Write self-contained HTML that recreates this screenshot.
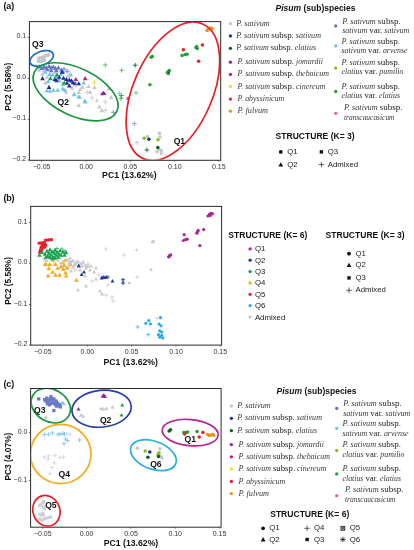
<!DOCTYPE html>
<html><head><meta charset="utf-8"><title>Pisum PCA</title>
<style>
html,body{margin:0;padding:0;background:#fff}
svg{display:block}
text{font-family:"Liberation Sans",sans-serif}
.sp{font-family:"Liberation Serif",serif;font-size:7.9px;fill:#3a3a3a}
.up{font-size:8.7px;fill:#222}
</style></head><body>
<svg width="414" height="550" viewBox="0 0 414 550">
<defs>
<clipPath id="ca"><rect x="29.9" y="22.1" width="190.3" height="137.7"/></clipPath>
<clipPath id="cb"><rect x="31.2" y="206.9" width="189.9" height="137.7"/></clipPath>
<clipPath id="cc"><rect x="31.1" y="389" width="189.5" height="137.7"/></clipPath>
</defs>
<rect width="414" height="550" fill="#fff"/>
<text x="3.4" y="8.9" font-size="9" font-weight="bold" text-anchor="start" fill="#111" textLength="10.8">(a)</text>
<rect x="29.4" y="21.6" width="191.29999999999998" height="138.70000000000002" fill="#fff" stroke="#2a2a2a" stroke-width="1"/>
<path d="M41.6 160.3v1.5" stroke="#333" stroke-width="0.6"/>
<text x="41.6" y="168.70000000000002" font-size="7" font-weight="normal" text-anchor="middle" fill="#333" >−0.05</text>
<path d="M86.2 160.3v1.5" stroke="#333" stroke-width="0.6"/>
<text x="86.2" y="168.70000000000002" font-size="7" font-weight="normal" text-anchor="middle" fill="#333" >0.00</text>
<path d="M130.3 160.3v1.5" stroke="#333" stroke-width="0.6"/>
<text x="130.3" y="168.70000000000002" font-size="7" font-weight="normal" text-anchor="middle" fill="#333" >0.05</text>
<path d="M174.8 160.3v1.5" stroke="#333" stroke-width="0.6"/>
<text x="174.8" y="168.70000000000002" font-size="7" font-weight="normal" text-anchor="middle" fill="#333" >0.10</text>
<path d="M218.8 160.3v1.5" stroke="#333" stroke-width="0.6"/>
<text x="218.8" y="168.70000000000002" font-size="7" font-weight="normal" text-anchor="middle" fill="#333" >0.15</text>
<path d="M29.4 37.3h-1.8" stroke="#333" stroke-width="0.7"/>
<text x="26.2" y="38.3" font-size="7" font-weight="normal" text-anchor="end" fill="#333" >0.1</text>
<path d="M29.4 78.4h-1.8" stroke="#333" stroke-width="0.7"/>
<text x="26.2" y="79.4" font-size="7" font-weight="normal" text-anchor="end" fill="#333" >0.0</text>
<path d="M29.4 119.3h-1.8" stroke="#333" stroke-width="0.7"/>
<text x="26.2" y="120.3" font-size="7" font-weight="normal" text-anchor="end" fill="#333" >−0.1</text>
<path d="M29.4 160.0h-1.8" stroke="#333" stroke-width="0.7"/>
<text x="26.2" y="161.0" font-size="7" font-weight="normal" text-anchor="end" fill="#333" >−0.2</text>
<text x="129.4" y="178.2" font-size="8.7" font-weight="bold" text-anchor="middle" fill="#111" >PC1 (13.62%)</text>
<text transform="translate(11.3 86.7) rotate(-90)" font-size="8.4" font-weight="bold" text-anchor="middle" fill="#111">PC2 (5.58%)</text>
<g clip-path="url(#ca)">
<rect x="37.1" y="56.7" width="3.1" height="3.1" fill="#c3c3cb"/>
<rect x="39.1" y="56.2" width="3.1" height="3.1" fill="#c3c3cb"/>
<rect x="41.0" y="55.7" width="3.1" height="3.1" fill="#c3c3cb"/>
<rect x="43.9" y="54.2" width="3.1" height="3.1" fill="#c3c3cb"/>
<rect x="45.5" y="53.8" width="3.1" height="3.1" fill="#c3c3cb"/>
<rect x="47.1" y="53.2" width="3.1" height="3.1" fill="#c3c3cb"/>
<rect x="36.8" y="59.6" width="3.1" height="3.1" fill="#c3c3cb"/>
<rect x="39.1" y="60.1" width="3.1" height="3.1" fill="#c3c3cb"/>
<rect x="41.0" y="59.1" width="3.1" height="3.1" fill="#c3c3cb"/>
<rect x="42.9" y="58.6" width="3.1" height="3.1" fill="#c3c3cb"/>
<rect x="42.5" y="55.5" width="3.1" height="3.1" fill="#c3c3cb"/>
<path d="M42.5 71.7L44.8 75.8H40.2Z" fill="#c6c6ce"/>
<path d="M45.4 80.5L47.7 84.6H43.1Z" fill="#c6c6ce"/>
<path d="M80.2 87.0L82.5 91.1H77.9Z" fill="#c6c6ce"/>
<path d="M82.3 84.8L84.6 88.9H80.0Z" fill="#c6c6ce"/>
<path d="M78.7 102.9L81.0 107.0H76.4Z" fill="#c6c6ce"/>
<path d="M78.7 90.0L81.0 94.1H76.4Z" fill="#c6c6ce"/>
<path d="M73.9 91.9L76.2 96.0H71.6Z" fill="#c6c6ce"/>
<path d="M79.9 94.8L82.2 98.9H77.6Z" fill="#c6c6ce"/>
<path d="M99.3 104.5L101.6 108.6H97.0Z" fill="#c6c6ce"/>
<path d="M101.7 108.1L104.0 112.2H99.4Z" fill="#c6c6ce"/>
<path d="M88.4 83.9L90.7 88.0H86.1Z" fill="#c6c6ce"/>
<path d="M94.4 85.1L96.7 89.2H92.1Z" fill="#c6c6ce"/>
<path d="M108.9 86.3L111.2 90.4H106.6Z" fill="#c6c6ce"/>
<path d="M111.3 94.8L113.6 98.9H109.0Z" fill="#c6c6ce"/>
<path d="M39.0 67.7L41.3 71.8H36.7Z" fill="#c6c6ce"/>
<path d="M47.0 74.7L49.3 78.8H44.7Z" fill="#c6c6ce"/>
<path d="M55.0 69.7L57.3 73.8H52.7Z" fill="#c6c6ce"/>
<path d="M60.0 78.7L62.3 82.8H57.7Z" fill="#c6c6ce"/>
<path d="M68.0 73.7L70.3 77.8H65.7Z" fill="#c6c6ce"/>
<path d="M72.0 85.7L74.3 89.8H69.7Z" fill="#c6c6ce"/>
<path d="M90.0 89.7L92.3 93.8H87.7Z" fill="#c6c6ce"/>
<path d="M36.5 63.7L38.8 67.8H34.2Z" fill="#c6c6ce"/>
<path d="M44.0 68.2L46.3 72.3H41.7Z" fill="#c6c6ce"/>
<path d="M66.0 89.7L68.3 93.8H63.7Z" fill="#c6c6ce"/>
<path d="M41.8 66.0L44.1 70.1H39.5Z" fill="#6272c6"/>
<path d="M43.9 64.5L46.2 68.6H41.6Z" fill="#6272c6"/>
<path d="M46.1 65.3L48.4 69.4H43.8Z" fill="#6272c6"/>
<path d="M49.0 63.8L51.3 67.9H46.7Z" fill="#6272c6"/>
<path d="M51.2 65.3L53.5 69.4H48.9Z" fill="#6272c6"/>
<path d="M53.4 64.5L55.7 68.6H51.1Z" fill="#6272c6"/>
<path d="M55.5 66.0L57.8 70.1H53.2Z" fill="#6272c6"/>
<path d="M58.4 65.3L60.7 69.4H56.1Z" fill="#6272c6"/>
<path d="M51.2 68.2L53.5 72.3H48.9Z" fill="#6272c6"/>
<path d="M61.3 67.4L63.6 71.5H59.0Z" fill="#6272c6"/>
<path d="M62.8 69.6L65.1 73.7H60.5Z" fill="#6272c6"/>
<path d="M47.5 67.2L49.8 71.3H45.2Z" fill="#6272c6"/>
<path d="M56.5 68.2L58.8 72.3H54.2Z" fill="#6272c6"/>
<path d="M39.5 64.2L41.8 68.3H37.2Z" fill="#6272c6"/>
<path d="M49.7 71.8L52.0 75.9H47.4Z" fill="#6cc5e8"/>
<path d="M52.6 72.5L54.9 76.6H50.3Z" fill="#6cc5e8"/>
<path d="M61.0 71.9L63.3 76.0H58.7Z" fill="#6cc5e8"/>
<path d="M70.8 72.5L73.1 76.6H68.5Z" fill="#6cc5e8"/>
<path d="M58.4 76.9L60.7 81.0H56.1Z" fill="#6cc5e8"/>
<path d="M48.3 79.0L50.6 83.1H46.0Z" fill="#6cc5e8"/>
<path d="M62.8 81.9L65.1 86.0H60.5Z" fill="#6cc5e8"/>
<path d="M46.8 88.5L49.1 92.6H44.5Z" fill="#6cc5e8"/>
<path d="M53.4 87.7L55.7 91.8H51.1Z" fill="#6cc5e8"/>
<path d="M57.7 87.7L60.0 91.8H55.4Z" fill="#6cc5e8"/>
<path d="M62.8 86.3L65.1 90.4H60.5Z" fill="#6cc5e8"/>
<path d="M65.0 87.7L67.3 91.8H62.7Z" fill="#6cc5e8"/>
<path d="M83.8 80.5L86.1 84.6H81.5Z" fill="#6cc5e8"/>
<path d="M74.4 92.1L76.7 96.2H72.1Z" fill="#6cc5e8"/>
<path d="M78.7 94.3L81.0 98.4H76.4Z" fill="#6cc5e8"/>
<path d="M85.2 99.3L87.5 103.4H82.9Z" fill="#6cc5e8"/>
<path d="M84.8 98.4L87.1 102.5H82.5Z" fill="#6cc5e8"/>
<path d="M50.0 88.7L52.3 92.8H47.7Z" fill="#6cc5e8"/>
<path d="M55.8 74.2L58.1 78.3H53.5Z" fill="#6cc5e8"/>
<path d="M45.5 69.7L47.8 73.8H43.2Z" fill="#6cc5e8"/>
<path d="M42.5 76.1L44.8 80.2H40.2Z" fill="#1c2c9c"/>
<path d="M54.8 76.9L57.1 81.0H52.5Z" fill="#1c2c9c"/>
<path d="M59.2 74.7L61.5 78.8H56.9Z" fill="#1c2c9c"/>
<path d="M66.4 76.9L68.7 81.0H64.1Z" fill="#1c2c9c"/>
<path d="M69.3 77.6L71.6 81.7H67.0Z" fill="#1c2c9c"/>
<path d="M71.5 78.3L73.8 82.4H69.2Z" fill="#1c2c9c"/>
<path d="M75.1 81.2L77.4 85.3H72.8Z" fill="#1c2c9c"/>
<path d="M78.7 81.2L81.0 85.3H76.4Z" fill="#1c2c9c"/>
<path d="M69.3 83.4L71.6 87.5H67.0Z" fill="#1c2c9c"/>
<path d="M49.0 84.8L51.3 88.9H46.7Z" fill="#1c2c9c"/>
<path d="M62.0 69.7L64.3 73.8H59.7Z" fill="#1c2c9c"/>
<path d="M63.5 75.7L65.8 79.8H61.2Z" fill="#1c2c9c"/>
<path d="M56.5 78.2L58.8 82.3H54.2Z" fill="#1c2c9c"/>
<path d="M73.0 80.2L75.3 84.3H70.7Z" fill="#1c2c9c"/>
<path d="M67.0 80.7L69.3 84.8H64.7Z" fill="#1c2c9c"/>
<path d="M50.5 76.1L52.8 80.2H48.2Z" fill="#1fa32e"/>
<path d="M64.2 80.5L66.5 84.6H61.9Z" fill="#1fa32e"/>
<path d="M57.0 72.5L59.3 76.6H54.7Z" fill="#1fa32e"/>
<path d="M75.8 76.9L78.1 81.0H73.5Z" fill="#c2187e"/>
<path d="M85.2 76.1L87.5 80.2H82.9Z" fill="#c2187e"/>
<path d="M102.2 91.6L104.2 95.2H100.2Z" fill="#8f22a8"/>
<path d="M103.4 90.8L105.4 94.4H101.4Z" fill="#8f22a8"/>
<path d="M104.4 91.4L106.4 95.0H102.4Z" fill="#8f22a8"/>
<path d="M64.7 71.2H69.5M67.1 68.8V73.6" stroke="#6272c6" stroke-width="0.85" fill="none"/>
<path d="M61.6 69.0H66.4M64.0 66.6V71.4" stroke="#6272c6" stroke-width="0.85" fill="none"/>
<path d="M92.0 82.6H96.8M94.4 80.2V85.0" stroke="#e6e23a" stroke-width="0.85" fill="none"/>
<path d="M94.4 100.7H99.2M96.8 98.3V103.1" stroke="#c6c6ce" stroke-width="0.85" fill="none"/>
<path d="M102.9 101.9H107.7M105.3 99.5V104.3" stroke="#c6c6ce" stroke-width="0.85" fill="none"/>
<path d="M102.9 110.4H107.7M105.3 108.0V112.8" stroke="#c6c6ce" stroke-width="0.85" fill="none"/>
<path d="M84.8 92.3H89.6M87.2 89.9V94.7" stroke="#c6c6ce" stroke-width="0.85" fill="none"/>
<path d="M67.6 73.0H72.4M70.0 70.6V75.4" stroke="#c6c6ce" stroke-width="0.85" fill="none"/>
<path d="M73.6 86.0H78.4M76.0 83.6V88.4" stroke="#c6c6ce" stroke-width="0.85" fill="none"/>
<path d="M89.6 98.0H94.4M92.0 95.6V100.4" stroke="#c6c6ce" stroke-width="0.85" fill="none"/>
<path d="M110.9 112.3H115.7M113.3 109.9V114.7" stroke="#7f8bd2" stroke-width="0.85" fill="none"/>
<path d="M102.9 65.0H107.7M105.3 62.6V67.4" stroke="#55b84a" stroke-width="0.85" fill="none"/>
<path d="M119.3 70.3H124.1M121.7 67.9V72.7" stroke="#55b84a" stroke-width="0.85" fill="none"/>
<path d="M116.9 93.5H121.7M119.3 91.1V95.9" stroke="#6cc5e8" stroke-width="0.85" fill="none"/>
<path d="M118.6 98.3H123.4M121.0 95.9V100.7" stroke="#1fa32e" stroke-width="0.85" fill="none"/>
<path d="M118.9 95.5H123.7M121.3 93.1V97.9" stroke="#1fa32e" stroke-width="0.85" fill="none"/>
<path d="M132.8 65.2H137.6M135.2 62.8V67.6" stroke="#0c5f24" stroke-width="0.85" fill="none"/>
<path d="M133.6 92.8H138.4M136.0 90.4V95.2" stroke="#6cc062" stroke-width="0.85" fill="none"/>
<path d="M132.0 123.6H136.8M134.4 121.2V126.0" stroke="#8a95d8" stroke-width="0.85" fill="none"/>
<path d="M134.6 142.5H139.4M137.0 140.1V144.9" stroke="#c6c6ce" stroke-width="0.85" fill="none"/>
<path d="M144.5 150.0H149.3M146.9 147.6V152.4" stroke="#0c5f24" stroke-width="0.85" fill="none"/>
<circle cx="127.8" cy="98.4" r="1.75" fill="#f0609e"/>
<circle cx="208.0" cy="29.6" r="1.75" fill="#e8941a"/>
<circle cx="209.5" cy="28.6" r="1.75" fill="#e8941a"/>
<circle cx="211.0" cy="28.0" r="1.75" fill="#e8941a"/>
<circle cx="212.4" cy="28.8" r="1.75" fill="#e8941a"/>
<circle cx="207.0" cy="30.4" r="1.75" fill="#e8941a"/>
<circle cx="183.4" cy="49.7" r="1.75" fill="#e8212b"/>
<circle cx="202.4" cy="44.9" r="1.75" fill="#e8212b"/>
<circle cx="198.6" cy="61.2" r="1.75" fill="#e8212b"/>
<circle cx="151.2" cy="57.2" r="1.75" fill="#1fa32e"/>
<circle cx="152.4" cy="56.4" r="1.75" fill="#1fa32e"/>
<circle cx="182.1" cy="55.6" r="1.75" fill="#1fa32e"/>
<circle cx="185.2" cy="54.6" r="1.75" fill="#1fa32e"/>
<circle cx="187.0" cy="54.2" r="1.75" fill="#1fa32e"/>
<circle cx="196.0" cy="47.6" r="1.75" fill="#1fa32e"/>
<circle cx="197.2" cy="48.6" r="1.75" fill="#1fa32e"/>
<circle cx="196.6" cy="46.6" r="1.75" fill="#1fa32e"/>
<circle cx="167.4" cy="72.6" r="1.75" fill="#1fa32e"/>
<circle cx="168.4" cy="71.4" r="1.75" fill="#1fa32e"/>
<circle cx="169.2" cy="70.4" r="1.75" fill="#1fa32e"/>
<circle cx="168.2" cy="73.6" r="1.75" fill="#1fa32e"/>
<circle cx="149.9" cy="84.7" r="1.75" fill="#1fa32e"/>
<circle cx="168.8" cy="72.4" r="1.0" fill="#0c5f24"/>
<circle cx="147.5" cy="136.4" r="1.75" fill="#c6c6ce"/>
<circle cx="159.4" cy="133.3" r="1.75" fill="#c6c6ce"/>
<circle cx="160.0" cy="137.0" r="1.75" fill="#c6c6ce"/>
<circle cx="157.2" cy="151.7" r="1.75" fill="#c6c6ce"/>
<circle cx="161.4" cy="150.8" r="1.75" fill="#c6c6ce"/>
<circle cx="161.4" cy="153.6" r="1.75" fill="#c6c6ce"/>
<circle cx="159.0" cy="149.2" r="1.75" fill="#c6c6ce"/>
<circle cx="144.2" cy="138.3" r="1.75" fill="#8bbd1a"/>
<circle cx="158.0" cy="139.7" r="1.75" fill="#8bbd1a"/>
<circle cx="148.9" cy="139.2" r="1.75" fill="#1c2c9c"/>
<circle cx="157.8" cy="147.5" r="1.75" fill="#0c5f24"/>
<ellipse cx="41.6" cy="58.4" rx="12.3" ry="6.9" transform="rotate(-21.4 41.6 58.4)" fill="none" stroke="#1c6fb8" stroke-width="1.7"/>
<ellipse cx="75.6" cy="91.8" rx="45.7" ry="23.7" transform="rotate(25.5 75.6 91.8)" fill="none" stroke="#14973c" stroke-width="1.7"/>
<ellipse cx="172.9" cy="91.3" rx="73.6" ry="39.5" transform="rotate(-66.2 172.9 91.3)" fill="none" stroke="#ee1c25" stroke-width="1.7"/>
</g>
<text x="32.1" y="47.2" font-size="8.6" font-weight="bold" text-anchor="start" fill="#111" >Q3</text>
<text x="57.6" y="104.6" font-size="8.6" font-weight="bold" text-anchor="start" fill="#111" >Q2</text>
<text x="173.7" y="143.7" font-size="8.6" font-weight="bold" text-anchor="start" fill="#111" >Q1</text>
<text x="275.6" y="11.2" font-size="8.5" font-weight="bold" fill="#111"><tspan font-style="italic">Pisum</tspan> (sub)species</text>
<circle cx="230.4" cy="23.7" r="1.65" fill="#c6c6ce"/>
<text class="sp" x="236.2" y="25.7" textLength="33.6" lengthAdjust="spacingAndGlyphs"><tspan font-style="italic">P. sativum</tspan></text>
<circle cx="230.4" cy="35.9" r="1.65" fill="#1c2c9c"/>
<text class="sp" x="236.2" y="37.9" textLength="84.8" lengthAdjust="spacingAndGlyphs"><tspan font-style="italic">P. sativum</tspan> <tspan class="up">subsp.</tspan> <tspan font-style="italic">sativum</tspan></text>
<circle cx="230.4" cy="48.3" r="1.65" fill="#0c5f24"/>
<text class="sp" x="236.2" y="50.3" textLength="79.8" lengthAdjust="spacingAndGlyphs"><tspan font-style="italic">P. sativum</tspan> <tspan class="up">subsp.</tspan> <tspan font-style="italic">elatius</tspan></text>
<circle cx="230.4" cy="62.2" r="1.65" fill="#8f22a8"/>
<text class="sp" x="237.4" y="64.2" textLength="85.6" lengthAdjust="spacingAndGlyphs"><tspan font-style="italic">P. sativum</tspan> <tspan class="up">subsp.</tspan> <tspan font-style="italic">jomardii</tspan></text>
<circle cx="230.4" cy="74.4" r="1.65" fill="#c2187e"/>
<text class="sp" x="237.4" y="76.4" textLength="91.6" lengthAdjust="spacingAndGlyphs"><tspan font-style="italic">P. sativum</tspan> <tspan class="up">subsp.</tspan> <tspan font-style="italic">thebaicum</tspan></text>
<circle cx="230.4" cy="86.5" r="1.65" fill="#e6e23a"/>
<text class="sp" x="237.4" y="88.5" textLength="88.0" lengthAdjust="spacingAndGlyphs"><tspan font-style="italic">P. sativum</tspan> <tspan class="up">subsp.</tspan> <tspan font-style="italic">cinereum</tspan></text>
<circle cx="230.4" cy="99.1" r="1.65" fill="#e8212b"/>
<text class="sp" x="237.4" y="101.1" textLength="46.9" lengthAdjust="spacingAndGlyphs"><tspan font-style="italic">P. abyssinicum</tspan></text>
<circle cx="230.4" cy="111.2" r="1.65" fill="#e8941a"/>
<text class="sp" x="237.4" y="113.2" textLength="30.6" lengthAdjust="spacingAndGlyphs"><tspan font-style="italic">P. fulvum</tspan></text>
<circle cx="335.7" cy="25.9" r="1.65" fill="#6272c6"/>
 <text class="sp" x="342.2" y="23.8" textLength="58.5" lengthAdjust="spacingAndGlyphs"><tspan font-style="italic">P. sativum</tspan> <tspan class="up">subsp.</tspan></text>
<text class="sp" x="342.2" y="33.2" textLength="67.2" lengthAdjust="spacingAndGlyphs"><tspan font-style="italic">sativum</tspan> <tspan class="up">var.</tspan> <tspan font-style="italic">sativum</tspan></text>
<circle cx="335.7" cy="45.9" r="1.65" fill="#6cc5e8"/>
 <text class="sp" x="341.5" y="43.5" textLength="58.5" lengthAdjust="spacingAndGlyphs"><tspan font-style="italic">P. sativum</tspan> <tspan class="up">subsp.</tspan></text>
<text class="sp" x="341.5" y="53.2" textLength="66.0" lengthAdjust="spacingAndGlyphs"><tspan font-style="italic">sativum</tspan> <tspan class="up">var.</tspan> <tspan font-style="italic">arvense</tspan></text>
<circle cx="335.7" cy="68.1" r="1.65" fill="#8bbd1a"/>
 <text class="sp" x="341.5" y="64.8" textLength="58.5" lengthAdjust="spacingAndGlyphs"><tspan font-style="italic">P. sativum</tspan> <tspan class="up">subsp.</tspan></text>
<text class="sp" x="341.5" y="74.2" textLength="62.0" lengthAdjust="spacingAndGlyphs"><tspan font-style="italic">elatius</tspan> <tspan class="up">var.</tspan> <tspan font-style="italic">pumilio</tspan></text>
<circle cx="335.7" cy="91.5" r="1.65" fill="#1fa32e"/>
 <text class="sp" x="341.5" y="88.7" textLength="58.5" lengthAdjust="spacingAndGlyphs"><tspan font-style="italic">P. sativum</tspan> <tspan class="up">subsp.</tspan></text>
<text class="sp" x="341.5" y="98.4" textLength="58.5" lengthAdjust="spacingAndGlyphs"><tspan font-style="italic">elatius</tspan> <tspan class="up">var.</tspan> <tspan font-style="italic">elatius</tspan></text>
<circle cx="335.7" cy="113.3" r="1.65" fill="#f0609e"/>
 <text class="sp" x="344.0" y="110.0" textLength="58.5" lengthAdjust="spacingAndGlyphs"><tspan font-style="italic">P. sativum</tspan> <tspan class="up">subsp.</tspan></text>
<text class="sp" x="344.0" y="119.9" textLength="50.5" lengthAdjust="spacingAndGlyphs"><tspan font-style="italic">transcaucasicum</tspan></text>
<text x="275.6" y="139.4" font-size="8.55" font-weight="bold" text-anchor="start" fill="#111" >STRUCTURE (K= 3)</text>
<circle cx="280.8" cy="151.9" r="1.9" fill="#111"/>
<text x="287.2" y="154" font-size="7.8" font-weight="normal" text-anchor="start" fill="#1a1a1a" >Q1</text>
<path d="M280.8 162.2L283.2 166.5H278.4Z" fill="#111"/>
<text x="287.2" y="166.7" font-size="7.8" font-weight="normal" text-anchor="start" fill="#1a1a1a" >Q2</text>
<rect x="319.7" y="150.2" width="3.4" height="3.4" fill="#111"/>
<text x="327.8" y="154" font-size="7.8" font-weight="normal" text-anchor="start" fill="#1a1a1a" >Q3</text>
<path d="M318.6 164.6H324.2M321.4 161.8V167.4" stroke="#111" stroke-width="0.65" fill="none"/>
<text x="327.8" y="166.7" font-size="7.8" font-weight="normal" text-anchor="start" fill="#1a1a1a" >Admixed</text>
<text x="3.4" y="201.3" font-size="9" font-weight="bold" text-anchor="start" fill="#111" textLength="11.2">(b)</text>
<rect x="30.7" y="206.4" width="190.9" height="138.70000000000002" fill="#fff" stroke="#2a2a2a" stroke-width="1"/>
<path d="M42.8 345.1v1.5" stroke="#333" stroke-width="0.6"/>
<text x="42.8" y="353.79999999999995" font-size="7" font-weight="normal" text-anchor="middle" fill="#333" >−0.05</text>
<path d="M87.4 345.1v1.5" stroke="#333" stroke-width="0.6"/>
<text x="87.4" y="353.79999999999995" font-size="7" font-weight="normal" text-anchor="middle" fill="#333" >0.00</text>
<path d="M131.6 345.1v1.5" stroke="#333" stroke-width="0.6"/>
<text x="131.6" y="353.79999999999995" font-size="7" font-weight="normal" text-anchor="middle" fill="#333" >0.05</text>
<path d="M176 345.1v1.5" stroke="#333" stroke-width="0.6"/>
<text x="176" y="353.79999999999995" font-size="7" font-weight="normal" text-anchor="middle" fill="#333" >0.10</text>
<path d="M220.3 345.1v1.5" stroke="#333" stroke-width="0.6"/>
<text x="220.3" y="353.79999999999995" font-size="7" font-weight="normal" text-anchor="middle" fill="#333" >0.15</text>
<path d="M30.7 222.5h-1.8" stroke="#333" stroke-width="0.7"/>
<text x="27.5" y="223.5" font-size="7" font-weight="normal" text-anchor="end" fill="#333" >0.1</text>
<path d="M30.7 263.3h-1.8" stroke="#333" stroke-width="0.7"/>
<text x="27.5" y="264.3" font-size="7" font-weight="normal" text-anchor="end" fill="#333" >0.0</text>
<path d="M30.7 304.5h-1.8" stroke="#333" stroke-width="0.7"/>
<text x="27.5" y="305.5" font-size="7" font-weight="normal" text-anchor="end" fill="#333" >−0.1</text>
<path d="M30.7 345.2h-1.8" stroke="#333" stroke-width="0.7"/>
<text x="27.5" y="346.2" font-size="7" font-weight="normal" text-anchor="end" fill="#333" >−0.2</text>
<text x="130.7" y="365.4" font-size="8.7" font-weight="bold" text-anchor="middle" fill="#111" >PC1 (13.62%)</text>
<text transform="translate(11.3 280.9) rotate(-90)" font-size="8.4" font-weight="bold" text-anchor="middle" fill="#111">PC2 (5.58%)</text>
<g clip-path="url(#cb)">
<path d="M60.0 256.0L62.0 259.6H58.0Z" fill="#c9c9cf"/>
<path d="M63.0 260.0L65.0 263.6H61.0Z" fill="#c9c9cf"/>
<path d="M66.0 258.0L68.0 261.6H64.0Z" fill="#c9c9cf"/>
<path d="M69.0 261.0L71.0 264.6H67.0Z" fill="#c9c9cf"/>
<path d="M72.0 259.0L74.0 262.6H70.0Z" fill="#c9c9cf"/>
<path d="M75.0 262.0L77.0 265.6H73.0Z" fill="#c9c9cf"/>
<path d="M70.0 256.0L72.0 259.6H68.0Z" fill="#c9c9cf"/>
<path d="M64.0 264.0L66.0 267.6H62.0Z" fill="#c9c9cf"/>
<path d="M68.0 266.0L70.0 269.6H66.0Z" fill="#c9c9cf"/>
<path d="M73.0 265.0L75.0 268.6H71.0Z" fill="#c9c9cf"/>
<path d="M77.0 260.0L79.0 263.6H75.0Z" fill="#c9c9cf"/>
<path d="M82.0 264.0L84.0 267.6H80.0Z" fill="#c9c9cf"/>
<path d="M86.0 266.0L88.0 269.6H84.0Z" fill="#c9c9cf"/>
<path d="M90.0 268.0L92.0 271.6H88.0Z" fill="#c9c9cf"/>
<path d="M94.0 270.0L96.0 273.6H92.0Z" fill="#c9c9cf"/>
<path d="M80.0 268.0L82.0 271.6H78.0Z" fill="#c9c9cf"/>
<path d="M85.0 274.0L87.0 277.6H83.0Z" fill="#c9c9cf"/>
<path d="M88.0 262.0L90.0 265.6H86.0Z" fill="#c9c9cf"/>
<path d="M91.0 264.0L93.0 267.6H89.0Z" fill="#c9c9cf"/>
<path d="M96.0 266.0L98.0 269.6H94.0Z" fill="#c9c9cf"/>
<path d="M78.0 288.0L80.0 291.6H76.0Z" fill="#c9c9cf"/>
<path d="M86.0 284.0L88.0 287.6H84.0Z" fill="#c9c9cf"/>
<path d="M100.0 289.0L102.0 292.6H98.0Z" fill="#c9c9cf"/>
<path d="M102.0 292.0L104.0 295.6H100.0Z" fill="#c9c9cf"/>
<path d="M96.0 277.0L98.0 280.6H94.0Z" fill="#c9c9cf"/>
<path d="M45.0 257.0L47.0 260.6H43.0Z" fill="#c9c9cf"/>
<path d="M47.0 262.0L49.0 265.6H45.0Z" fill="#c9c9cf"/>
<path d="M71.0 269.0L73.0 272.6H69.0Z" fill="#c9c9cf"/>
<path d="M58.0 258.0L60.0 261.6H56.0Z" fill="#c9c9cf"/>
<path d="M83.0 260.0L85.0 263.6H81.0Z" fill="#c9c9cf"/>
<path d="M103.6 249.0H108.0M105.8 246.8V251.2" stroke="#c9c9cf" stroke-width="0.7" fill="none"/>
<path d="M121.8 255.0H126.2M124.0 252.8V257.2" stroke="#c9c9cf" stroke-width="0.7" fill="none"/>
<path d="M134.3 249.9H138.7M136.5 247.7V252.1" stroke="#c9c9cf" stroke-width="0.7" fill="none"/>
<path d="M135.0 277.3H139.4M137.2 275.1V279.5" stroke="#c9c9cf" stroke-width="0.7" fill="none"/>
<path d="M105.8 285.0H110.2M108.0 282.8V287.2" stroke="#c9c9cf" stroke-width="0.7" fill="none"/>
<path d="M103.8 295.0H108.2M106.0 292.8V297.2" stroke="#c9c9cf" stroke-width="0.7" fill="none"/>
<path d="M109.8 297.0H114.2M112.0 294.8V299.2" stroke="#c9c9cf" stroke-width="0.7" fill="none"/>
<path d="M110.8 301.0H115.2M113.0 298.8V303.2" stroke="#c9c9cf" stroke-width="0.7" fill="none"/>
<path d="M89.8 281.0H94.2M92.0 278.8V283.2" stroke="#c9c9cf" stroke-width="0.7" fill="none"/>
<path d="M72.8 270.0H77.2M75.0 267.8V272.2" stroke="#c9c9cf" stroke-width="0.7" fill="none"/>
<path d="M96.8 275.0H101.2M99.0 272.8V277.2" stroke="#c9c9cf" stroke-width="0.7" fill="none"/>
<path d="M155.0 318.2H159.4M157.2 316.0V320.4" stroke="#c9c9cf" stroke-width="0.7" fill="none"/>
<circle cx="152.4" cy="242.0" r="1.5" fill="#c9c9cf"/>
<circle cx="153.6" cy="241.4" r="1.5" fill="#c9c9cf"/>
<circle cx="151.0" cy="269.7" r="1.5" fill="#c9c9cf"/>
<circle cx="129.4" cy="283.1" r="1.5" fill="#c9c9cf"/>
<circle cx="169.8" cy="256.8" r="1.5" fill="#c9c9cf"/>
<path d="M68.0 258.0L70.0 261.6H66.0Z" fill="#c9c9cf"/>
<path d="M70.5 260.0L72.5 263.6H68.5Z" fill="#c9c9cf"/>
<path d="M73.0 258.5L75.0 262.1H71.0Z" fill="#c9c9cf"/>
<path d="M75.5 261.0L77.5 264.6H73.5Z" fill="#c9c9cf"/>
<path d="M78.0 259.5L80.0 263.1H76.0Z" fill="#c9c9cf"/>
<path d="M80.5 262.0L82.5 265.6H78.5Z" fill="#c9c9cf"/>
<path d="M83.0 261.0L85.0 264.6H81.0Z" fill="#c9c9cf"/>
<path d="M85.5 263.5L87.5 267.1H83.5Z" fill="#c9c9cf"/>
<path d="M88.0 264.5L90.0 268.1H86.0Z" fill="#c9c9cf"/>
<path d="M74.0 263.5L76.0 267.1H72.0Z" fill="#c9c9cf"/>
<path d="M79.0 264.5L81.0 268.1H77.0Z" fill="#c9c9cf"/>
<path d="M71.0 262.5L73.0 266.1H69.0Z" fill="#c9c9cf"/>
<path d="M44.5 257.0L46.5 260.6H42.5Z" fill="#c9c9cf"/>
<path d="M46.5 258.5L48.5 262.1H44.5Z" fill="#c9c9cf"/>
<rect x="44.1" y="238.9" width="2.8" height="2.8" fill="#e5202a"/>
<rect x="46.1" y="238.6" width="2.8" height="2.8" fill="#e5202a"/>
<rect x="48.1" y="238.4" width="2.8" height="2.8" fill="#e5202a"/>
<rect x="50.1" y="238.2" width="2.8" height="2.8" fill="#e5202a"/>
<rect x="37.6" y="241.8" width="2.8" height="2.8" fill="#e5202a"/>
<rect x="39.6" y="241.6" width="2.8" height="2.8" fill="#e5202a"/>
<rect x="41.6" y="241.4" width="2.8" height="2.8" fill="#e5202a"/>
<rect x="43.1" y="241.2" width="2.8" height="2.8" fill="#e5202a"/>
<rect x="40.6" y="243.8" width="2.8" height="2.8" fill="#e5202a"/>
<rect x="42.6" y="243.6" width="2.8" height="2.8" fill="#e5202a"/>
<rect x="44.4" y="243.6" width="2.8" height="2.8" fill="#e5202a"/>
<rect x="39.6" y="246.0" width="2.8" height="2.8" fill="#e5202a"/>
<rect x="41.6" y="246.0" width="2.8" height="2.8" fill="#e5202a"/>
<rect x="43.6" y="245.8" width="2.8" height="2.8" fill="#e5202a"/>
<rect x="38.9" y="248.6" width="2.8" height="2.8" fill="#e5202a"/>
<rect x="40.6" y="248.4" width="2.8" height="2.8" fill="#e5202a"/>
<rect x="38.2" y="250.9" width="2.8" height="2.8" fill="#e5202a"/>
<rect x="40.1" y="250.6" width="2.8" height="2.8" fill="#e5202a"/>
<path d="M39.5 252.8L41.7 256.8H37.3Z" fill="#12a04a"/>
<path d="M42.0 249.8L44.2 253.8H39.8Z" fill="#12a04a"/>
<path d="M45.0 251.8L47.2 255.8H42.8Z" fill="#12a04a"/>
<path d="M47.0 248.8L49.2 252.8H44.8Z" fill="#12a04a"/>
<path d="M49.0 250.8L51.2 254.8H46.8Z" fill="#12a04a"/>
<path d="M50.0 247.3L52.2 251.3H47.8Z" fill="#12a04a"/>
<path d="M51.0 252.8L53.2 256.8H48.8Z" fill="#12a04a"/>
<path d="M52.0 249.3L54.2 253.3H49.8Z" fill="#12a04a"/>
<path d="M53.0 254.8L55.2 258.8H50.8Z" fill="#12a04a"/>
<path d="M54.0 250.8L56.2 254.8H51.8Z" fill="#12a04a"/>
<path d="M55.0 247.8L57.2 251.8H52.8Z" fill="#12a04a"/>
<path d="M56.0 252.8L58.2 256.8H53.8Z" fill="#12a04a"/>
<path d="M57.0 249.8L59.2 253.8H54.8Z" fill="#12a04a"/>
<path d="M58.0 254.8L60.2 258.8H55.8Z" fill="#12a04a"/>
<path d="M59.0 251.8L61.2 255.8H56.8Z" fill="#12a04a"/>
<path d="M55.0 255.8L57.2 259.8H52.8Z" fill="#12a04a"/>
<path d="M50.0 255.3L52.2 259.3H47.8Z" fill="#12a04a"/>
<path d="M52.5 256.8L54.7 260.8H50.3Z" fill="#12a04a"/>
<path d="M48.0 253.8L50.2 257.8H45.8Z" fill="#12a04a"/>
<path d="M60.0 248.3L62.2 252.3H57.8Z" fill="#12a04a"/>
<path d="M61.0 252.8L63.2 256.8H58.8Z" fill="#12a04a"/>
<path d="M63.0 249.8L65.2 253.8H60.8Z" fill="#12a04a"/>
<path d="M64.5 252.8L66.7 256.8H62.3Z" fill="#12a04a"/>
<path d="M66.0 250.3L68.2 254.3H63.8Z" fill="#12a04a"/>
<path d="M46.0 254.8L48.2 258.8H43.8Z" fill="#12a04a"/>
<path d="M55.0 248.5H59.0M57.0 246.5V250.5" stroke="#12a04a" stroke-width="0.7" fill="none"/>
<path d="M60.0 249.0H64.0M62.0 247.0V251.0" stroke="#12a04a" stroke-width="0.7" fill="none"/>
<path d="M63.0 251.0H67.0M65.0 249.0V253.0" stroke="#12a04a" stroke-width="0.7" fill="none"/>
<path d="M45.2 261.8L47.5 265.9H42.9Z" fill="#f5ab1c"/>
<path d="M49.6 261.8L51.9 265.9H47.3Z" fill="#f5ab1c"/>
<path d="M55.4 261.8L57.7 265.9H53.1Z" fill="#f5ab1c"/>
<path d="M64.1 262.5L66.4 266.6H61.8Z" fill="#f5ab1c"/>
<path d="M67.0 265.4L69.3 269.5H64.7Z" fill="#f5ab1c"/>
<path d="M48.8 266.1L51.1 270.2H46.5Z" fill="#f5ab1c"/>
<path d="M63.3 266.8L65.6 270.9H61.0Z" fill="#f5ab1c"/>
<path d="M52.5 269.7L54.8 273.8H50.2Z" fill="#f5ab1c"/>
<path d="M65.5 270.5L67.8 274.6H63.2Z" fill="#f5ab1c"/>
<path d="M48.1 273.4L50.4 277.5H45.8Z" fill="#f5ab1c"/>
<path d="M55.4 272.6L57.7 276.7H53.1Z" fill="#f5ab1c"/>
<path d="M59.7 272.6L62.0 276.7H57.4Z" fill="#f5ab1c"/>
<path d="M66.2 273.4L68.5 277.5H63.9Z" fill="#f5ab1c"/>
<path d="M76.4 277.7L78.7 281.8H74.1Z" fill="#f5ab1c"/>
<path d="M57.5 265.7L59.8 269.8H55.2Z" fill="#f5ab1c"/>
<path d="M61.0 264.2L63.3 268.3H58.7Z" fill="#f5ab1c"/>
<path d="M51.1 261.2H55.3M53.2 259.1V263.3" stroke="#f5ab1c" stroke-width="0.8" fill="none"/>
<path d="M59.1 263.3H63.3M61.2 261.2V265.4" stroke="#f5ab1c" stroke-width="0.8" fill="none"/>
<path d="M62.7 260.4H66.9M64.8 258.3V262.5" stroke="#f5ab1c" stroke-width="0.8" fill="none"/>
<path d="M67.8 265.5H72.0M69.9 263.4V267.6" stroke="#f5ab1c" stroke-width="0.8" fill="none"/>
<path d="M78.7 263.6L80.7 267.2H76.7Z" fill="#20399f"/>
<path d="M81.6 272.5L83.6 276.1H79.6Z" fill="#20399f"/>
<path d="M84.0 270.0L86.0 273.6H82.0Z" fill="#20399f"/>
<path d="M101.6 275.8L103.6 279.4H99.6Z" fill="#20399f"/>
<path d="M103.2 275.0L105.2 278.6H101.2Z" fill="#20399f"/>
<path d="M104.8 275.4L106.8 279.0H102.8Z" fill="#20399f"/>
<path d="M106.4 275.0L108.4 278.6H104.4Z" fill="#20399f"/>
<path d="M112.5 279.0L114.5 282.6H110.5Z" fill="#20399f"/>
<path d="M121.0 279.8H125.0M123.0 277.8V281.8" stroke="#20399f" stroke-width="1.0" fill="none"/>
<path d="M121.0 283.0H125.0M123.0 281.0V285.0" stroke="#20399f" stroke-width="1.0" fill="none"/>
<path d="M106.2 277.0H109.8M108.0 275.2V278.8" stroke="#20399f" stroke-width="0.7" fill="none"/>
<circle cx="208.0" cy="216.0" r="1.6" fill="#b4209a"/>
<circle cx="209.5" cy="214.4" r="1.6" fill="#b4209a"/>
<circle cx="211.0" cy="213.4" r="1.6" fill="#b4209a"/>
<circle cx="212.5" cy="213.8" r="1.6" fill="#b4209a"/>
<circle cx="210.2" cy="215.4" r="1.6" fill="#b4209a"/>
<circle cx="203.7" cy="229.6" r="1.6" fill="#b4209a"/>
<circle cx="196.8" cy="233.2" r="1.6" fill="#b4209a"/>
<circle cx="197.6" cy="231.6" r="1.6" fill="#b4209a"/>
<circle cx="198.2" cy="230.4" r="1.6" fill="#b4209a"/>
<circle cx="184.2" cy="234.7" r="1.6" fill="#b4209a"/>
<circle cx="187.2" cy="239.2" r="1.6" fill="#b4209a"/>
<circle cx="185.6" cy="239.6" r="1.6" fill="#b4209a"/>
<circle cx="183.4" cy="240.5" r="1.6" fill="#b4209a"/>
<circle cx="199.9" cy="245.6" r="1.6" fill="#b4209a"/>
<circle cx="168.6" cy="256.8" r="1.6" fill="#b4209a"/>
<circle cx="169.6" cy="255.6" r="1.6" fill="#b4209a"/>
<circle cx="170.6" cy="254.8" r="1.6" fill="#b4209a"/>
<circle cx="160.5" cy="317.7" r="1.6" fill="#2caae2"/>
<circle cx="148.8" cy="320.7" r="1.6" fill="#2caae2"/>
<circle cx="145.8" cy="323.3" r="1.6" fill="#2caae2"/>
<circle cx="150.4" cy="324.0" r="1.6" fill="#2caae2"/>
<circle cx="159.0" cy="324.0" r="1.6" fill="#2caae2"/>
<circle cx="161.0" cy="325.8" r="1.6" fill="#2caae2"/>
<circle cx="159.7" cy="330.9" r="1.6" fill="#2caae2"/>
<circle cx="161.8" cy="332.0" r="1.6" fill="#2caae2"/>
<circle cx="158.5" cy="334.7" r="1.6" fill="#2caae2"/>
<circle cx="161.8" cy="335.4" r="1.6" fill="#2caae2"/>
<circle cx="159.7" cy="337.2" r="1.6" fill="#2caae2"/>
<circle cx="162.8" cy="338.0" r="1.6" fill="#2caae2"/>
<path d="M135.7 327.0H139.7M137.7 325.0V329.0" stroke="#2caae2" stroke-width="0.7" fill="none"/>
<path d="M146.3 334.7H150.3M148.3 332.7V336.7" stroke="#2caae2" stroke-width="0.7" fill="none"/>
</g>
<text x="228.3" y="238.3" font-size="8.55" font-weight="bold" text-anchor="start" fill="#111" >STRUCTURE (K= 6)</text>
<circle cx="250.1" cy="248.9" r="1.65" fill="#b4209a"/>
<text x="254.9" y="251.39999999999998" font-size="7.8" font-weight="normal" text-anchor="start" fill="#1a1a1a" >Q1</text>
<circle cx="250.1" cy="260.2" r="1.65" fill="#20399f"/>
<text x="254.9" y="262.75" font-size="7.8" font-weight="normal" text-anchor="start" fill="#1a1a1a" >Q2</text>
<circle cx="250.1" cy="271.6" r="1.65" fill="#12a04a"/>
<text x="254.9" y="274.09999999999997" font-size="7.8" font-weight="normal" text-anchor="start" fill="#1a1a1a" >Q3</text>
<circle cx="250.1" cy="282.9" r="1.65" fill="#f5ab1c"/>
<text x="254.9" y="285.45" font-size="7.8" font-weight="normal" text-anchor="start" fill="#1a1a1a" >Q4</text>
<circle cx="250.1" cy="294.3" r="1.65" fill="#e5202a"/>
<text x="254.9" y="296.79999999999995" font-size="7.8" font-weight="normal" text-anchor="start" fill="#1a1a1a" >Q5</text>
<circle cx="250.1" cy="305.6" r="1.65" fill="#2caae2"/>
<text x="254.9" y="308.15" font-size="7.8" font-weight="normal" text-anchor="start" fill="#1a1a1a" >Q6</text>
<circle cx="250.1" cy="317.0" r="1.65" fill="#c9c9cf"/>
<text x="254.9" y="319.49999999999994" font-size="7.8" font-weight="normal" text-anchor="start" fill="#1a1a1a" >Admixed</text>
<text x="325.6" y="238.3" font-size="8.55" font-weight="bold" text-anchor="start" fill="#111" >STRUCTURE (K= 3)</text>
<circle cx="349.0" cy="253.7" r="1.9" fill="#111"/>
<text x="355.5" y="256.2" font-size="7.8" font-weight="normal" text-anchor="start" fill="#1a1a1a" >Q1</text>
<path d="M349.0 262.7L351.4 267.0H346.6Z" fill="#111"/>
<text x="355.5" y="267.3" font-size="7.8" font-weight="normal" text-anchor="start" fill="#1a1a1a" >Q2</text>
<rect x="347.3" y="276.2" width="3.4" height="3.4" fill="#111"/>
<text x="355.5" y="280.4" font-size="7.8" font-weight="normal" text-anchor="start" fill="#1a1a1a" >Q3</text>
<path d="M346.2 290.3H351.8M349.0 287.5V293.1" stroke="#111" stroke-width="0.65" fill="none"/>
<text x="355.5" y="292.4" font-size="7.8" font-weight="normal" text-anchor="start" fill="#1a1a1a" >Admixed</text>
<text x="3.4" y="387.2" font-size="9" font-weight="bold" text-anchor="start" fill="#111" textLength="10.8">(c)</text>
<rect x="30.6" y="388.5" width="190.5" height="138.70000000000005" fill="#fff" stroke="#2a2a2a" stroke-width="1"/>
<path d="M42.8 527.2v1.5" stroke="#333" stroke-width="0.6"/>
<text x="42.8" y="535.6" font-size="7" font-weight="normal" text-anchor="middle" fill="#333" >−0.05</text>
<path d="M86.6 527.2v1.5" stroke="#333" stroke-width="0.6"/>
<text x="86.6" y="535.6" font-size="7" font-weight="normal" text-anchor="middle" fill="#333" >0.00</text>
<path d="M131 527.2v1.5" stroke="#333" stroke-width="0.6"/>
<text x="131" y="535.6" font-size="7" font-weight="normal" text-anchor="middle" fill="#333" >0.05</text>
<path d="M175.2 527.2v1.5" stroke="#333" stroke-width="0.6"/>
<text x="175.2" y="535.6" font-size="7" font-weight="normal" text-anchor="middle" fill="#333" >0.10</text>
<path d="M219.6 527.2v1.5" stroke="#333" stroke-width="0.6"/>
<text x="219.6" y="535.6" font-size="7" font-weight="normal" text-anchor="middle" fill="#333" >0.15</text>
<path d="M30.6 432.6h-1.8" stroke="#333" stroke-width="0.7"/>
<text x="27.400000000000002" y="433.6" font-size="7" font-weight="normal" text-anchor="end" fill="#333" >0.0</text>
<path d="M30.6 480.6h-1.8" stroke="#333" stroke-width="0.7"/>
<text x="27.400000000000002" y="481.6" font-size="7" font-weight="normal" text-anchor="end" fill="#333" >−0.1</text>
<text x="131" y="546" font-size="8.7" font-weight="bold" text-anchor="middle" fill="#111" >PC1 (13.62%)</text>
<text transform="translate(11.3 456.6) rotate(-90)" font-size="8.4" font-weight="bold" text-anchor="middle" fill="#111">PC3 (4.07%)</text>
<g clip-path="url(#cc)">
<rect x="42.9" y="398.0" width="3.3" height="3.3" fill="#6a7bc6"/>
<rect x="45.1" y="396.5" width="3.3" height="3.3" fill="#6a7bc6"/>
<rect x="47.1" y="398.7" width="3.3" height="3.3" fill="#6a7bc6"/>
<rect x="49.4" y="395.1" width="3.3" height="3.3" fill="#6a7bc6"/>
<rect x="50.1" y="398.0" width="3.3" height="3.3" fill="#6a7bc6"/>
<rect x="52.2" y="397.2" width="3.3" height="3.3" fill="#6a7bc6"/>
<rect x="54.5" y="399.4" width="3.3" height="3.3" fill="#6a7bc6"/>
<rect x="53.0" y="401.6" width="3.3" height="3.3" fill="#6a7bc6"/>
<rect x="50.1" y="401.6" width="3.3" height="3.3" fill="#6a7bc6"/>
<rect x="47.1" y="400.9" width="3.3" height="3.3" fill="#6a7bc6"/>
<rect x="45.8" y="402.2" width="3.3" height="3.3" fill="#6a7bc6"/>
<rect x="55.9" y="401.6" width="3.3" height="3.3" fill="#6a7bc6"/>
<rect x="58.1" y="403.1" width="3.3" height="3.3" fill="#6a7bc6"/>
<rect x="58.8" y="405.2" width="3.3" height="3.3" fill="#6a7bc6"/>
<rect x="55.1" y="404.5" width="3.3" height="3.3" fill="#6a7bc6"/>
<rect x="52.2" y="408.9" width="3.3" height="3.3" fill="#6a7bc6"/>
<rect x="37.1" y="397.2" width="3.3" height="3.3" fill="#6a7bc6"/>
<rect x="48.6" y="397.2" width="3.3" height="3.3" fill="#6a7bc6"/>
<rect x="51.6" y="400.2" width="3.3" height="3.3" fill="#6a7bc6"/>
<rect x="56.6" y="403.8" width="3.3" height="3.3" fill="#6a7bc6"/>
<rect x="53.8" y="403.1" width="3.3" height="3.3" fill="#6a7bc6"/>
<rect x="44.2" y="399.4" width="3.3" height="3.3" fill="#6a7bc6"/>
<rect x="48.0" y="403.1" width="3.3" height="3.3" fill="#6a7bc6"/>
<rect x="61.1" y="401.7" width="3.0" height="3.0" fill="#6cc5e8"/>
<circle cx="64.6" cy="404.4" r="1.2" fill="#c6c6ce"/>
<circle cx="45.9" cy="417.5" r="1.6" fill="#c6c6ce"/>
<path d="M102.6 394.2L104.6 397.8H100.6Z" fill="#8f22a8"/>
<path d="M103.8 393.0L105.8 396.6H101.8Z" fill="#8f22a8"/>
<path d="M105.0 394.4L107.0 398.0H103.0Z" fill="#8f22a8"/>
<path d="M78.5 406.9L80.5 410.5H76.5Z" fill="#8f22a8"/>
<path d="M81.1 413.0L83.1 416.6H79.1Z" fill="#c6c6ce"/>
<path d="M83.3 414.2L85.3 417.8H81.3Z" fill="#c6c6ce"/>
<path d="M101.0 406.4L103.0 410.0H99.0Z" fill="#c6c6ce"/>
<path d="M103.4 407.0L105.4 410.6H101.4Z" fill="#c6c6ce"/>
<path d="M106.4 406.4L108.4 410.0H104.4Z" fill="#c6c6ce"/>
<path d="M112.5 405.0L114.5 408.6H110.5Z" fill="#c6c6ce"/>
<path d="M122.3 402.9L124.3 406.5H120.3Z" fill="#1fa32e"/>
<path d="M121.5 413.0L123.5 416.6H119.5Z" fill="#1fa32e"/>
<path d="M42.2 434.6H46.6M44.4 432.4V436.8" stroke="#74c6e8" stroke-width="0.85" fill="none"/>
<path d="M46.2 434.4H50.6M48.4 432.2V436.6" stroke="#74c6e8" stroke-width="0.85" fill="none"/>
<path d="M50.2 433.0H54.6M52.4 430.8V435.2" stroke="#74c6e8" stroke-width="0.85" fill="none"/>
<path d="M55.8 434.4H60.2M58.0 432.2V436.6" stroke="#74c6e8" stroke-width="0.85" fill="none"/>
<path d="M57.8 434.2H62.2M60.0 432.0V436.4" stroke="#74c6e8" stroke-width="0.85" fill="none"/>
<path d="M60.8 433.4H65.2M63.0 431.2V435.6" stroke="#74c6e8" stroke-width="0.85" fill="none"/>
<path d="M62.4 434.2H66.8M64.6 432.0V436.4" stroke="#74c6e8" stroke-width="0.85" fill="none"/>
<path d="M63.4 439.0H67.8M65.6 436.8V441.2" stroke="#74c6e8" stroke-width="0.85" fill="none"/>
<path d="M65.4 440.6H69.8M67.6 438.4V442.8" stroke="#74c6e8" stroke-width="0.85" fill="none"/>
<path d="M61.8 443.6H66.2M64.0 441.4V445.8" stroke="#74c6e8" stroke-width="0.85" fill="none"/>
<path d="M77.4 440.0H81.8M79.6 437.8V442.2" stroke="#74c6e8" stroke-width="0.85" fill="none"/>
<path d="M64.8 434.4H69.2M67.0 432.2V436.6" stroke="#d2d2d9" stroke-width="0.8" fill="none"/>
<path d="M67.8 434.4H72.2M70.0 432.2V436.6" stroke="#d2d2d9" stroke-width="0.8" fill="none"/>
<path d="M42.2 457.0H46.6M44.4 454.8V459.2" stroke="#d2d2d9" stroke-width="0.8" fill="none"/>
<path d="M46.4 456.0H50.8M48.6 453.8V458.2" stroke="#d2d2d9" stroke-width="0.8" fill="none"/>
<path d="M45.8 459.0H50.2M48.0 456.8V461.2" stroke="#d2d2d9" stroke-width="0.8" fill="none"/>
<path d="M52.8 455.6H57.2M55.0 453.4V457.8" stroke="#d2d2d9" stroke-width="0.8" fill="none"/>
<path d="M57.8 457.6H62.2M60.0 455.4V459.8" stroke="#d2d2d9" stroke-width="0.8" fill="none"/>
<path d="M61.4 457.0H65.8M63.6 454.8V459.2" stroke="#d2d2d9" stroke-width="0.8" fill="none"/>
<path d="M52.2 463.0H56.6M54.4 460.8V465.2" stroke="#d2d2d9" stroke-width="0.8" fill="none"/>
<path d="M49.8 467.6H54.2M52.0 465.4V469.8" stroke="#d2d2d9" stroke-width="0.8" fill="none"/>
<path d="M47.8 473.6H52.2M50.0 471.4V475.8" stroke="#d2d2d9" stroke-width="0.8" fill="none"/>
<rect x="38.2" y="503.9" width="3.1" height="3.1" fill="#cfcfd7"/>
<rect x="39.7" y="503.1" width="3.1" height="3.1" fill="#cfcfd7"/>
<rect x="41.1" y="501.4" width="3.1" height="3.1" fill="#cfcfd7"/>
<rect x="41.9" y="500.1" width="3.1" height="3.1" fill="#cfcfd7"/>
<rect x="43.0" y="507.2" width="3.1" height="3.1" fill="#cfcfd7"/>
<rect x="42.1" y="505.6" width="3.1" height="3.1" fill="#cfcfd7"/>
<rect x="38.2" y="512.7" width="3.1" height="3.1" fill="#cfcfd7"/>
<rect x="41.1" y="511.7" width="3.1" height="3.1" fill="#cfcfd7"/>
<rect x="42.0" y="513.1" width="3.1" height="3.1" fill="#cfcfd7"/>
<rect x="39.7" y="513.7" width="3.1" height="3.1" fill="#cfcfd7"/>
<rect x="38.2" y="517.5" width="3.1" height="3.1" fill="#cfcfd7"/>
<rect x="40.1" y="518.5" width="3.1" height="3.1" fill="#cfcfd7"/>
<rect x="43.0" y="517.0" width="3.1" height="3.1" fill="#cfcfd7"/>
<rect x="45.4" y="516.5" width="3.1" height="3.1" fill="#cfcfd7"/>
<rect x="47.8" y="516.0" width="3.1" height="3.1" fill="#cfcfd7"/>
<rect x="49.2" y="515.5" width="3.1" height="3.1" fill="#cfcfd7"/>
<rect x="41.5" y="518.1" width="3.1" height="3.1" fill="#cfcfd7"/>
<circle cx="169.1" cy="431.0" r="1.75" fill="#0c5f24"/>
<circle cx="170.5" cy="429.7" r="1.75" fill="#0c5f24"/>
<circle cx="183.8" cy="432.4" r="1.75" fill="#1fa32e"/>
<circle cx="187.7" cy="432.1" r="1.75" fill="#1fa32e"/>
<circle cx="186.0" cy="432.6" r="1.75" fill="#1fa32e"/>
<circle cx="197.0" cy="431.6" r="1.75" fill="#1fa32e"/>
<circle cx="184.6" cy="433.9" r="1.75" fill="#e8212b"/>
<circle cx="202.9" cy="432.4" r="1.75" fill="#e8212b"/>
<circle cx="199.2" cy="436.9" r="1.75" fill="#e8212b"/>
<circle cx="207.6" cy="434.4" r="1.75" fill="#e8941a"/>
<circle cx="209.2" cy="435.4" r="1.75" fill="#e8941a"/>
<circle cx="211.0" cy="435.0" r="1.75" fill="#e8941a"/>
<circle cx="212.6" cy="434.6" r="1.75" fill="#e8941a"/>
<circle cx="213.6" cy="435.2" r="1.75" fill="#e8941a"/>
<circle cx="137.3" cy="448.3" r="1.75" fill="#c6c6ce"/>
<circle cx="159.9" cy="448.8" r="1.75" fill="#c6c6ce"/>
<circle cx="162.0" cy="458.1" r="1.75" fill="#c6c6ce"/>
<circle cx="160.5" cy="456.0" r="1.75" fill="#c6c6ce"/>
<circle cx="145.2" cy="451.0" r="1.75" fill="#8bbd1a"/>
<circle cx="159.0" cy="452.8" r="1.75" fill="#8bbd1a"/>
<circle cx="158.0" cy="454.6" r="1.75" fill="#8bbd1a"/>
<circle cx="149.8" cy="452.0" r="1.75" fill="#1c2c9c"/>
<circle cx="147.9" cy="457.3" r="1.75" fill="#0c5f24"/>
<circle cx="158.5" cy="456.6" r="1.75" fill="#0c5f24"/>
<ellipse cx="50.8" cy="405.6" rx="20.7" ry="16.1" transform="rotate(30 50.8 405.6)" fill="none" stroke="#14973c" stroke-width="1.7"/>
<ellipse cx="101.6" cy="408.7" rx="29.7" ry="18.4" transform="rotate(-5.5 101.6 408.7)" fill="none" stroke="#2a3ea6" stroke-width="1.7"/>
<ellipse cx="60.7" cy="454" rx="30.3" ry="29.6" transform="rotate(0 60.7 454)" fill="none" stroke="#f5ab1c" stroke-width="1.7"/>
<ellipse cx="46.4" cy="510.8" rx="13.4" ry="15.6" transform="rotate(-20 46.4 510.8)" fill="none" stroke="#e5202a" stroke-width="1.7"/>
<ellipse cx="190.2" cy="432.6" rx="28.1" ry="13.1" transform="rotate(5.5 190.2 432.6)" fill="none" stroke="#b4209a" stroke-width="1.7"/>
<ellipse cx="153.4" cy="455.2" rx="23.9" ry="13.9" transform="rotate(20.6 153.4 455.2)" fill="none" stroke="#2caae2" stroke-width="1.7"/>
</g>
<text x="34.0" y="412.65000000000003" font-size="8.6" font-weight="bold" text-anchor="start" fill="#111" >Q3</text>
<text x="99.89999999999999" y="422.55" font-size="8.6" font-weight="bold" text-anchor="start" fill="#111" >Q2</text>
<text x="58.6" y="477.45" font-size="8.6" font-weight="bold" text-anchor="start" fill="#111" >Q4</text>
<text x="45.2" y="508.15000000000003" font-size="8.6" font-weight="bold" text-anchor="start" fill="#111" >Q5</text>
<text x="184.6" y="442.45" font-size="8.6" font-weight="bold" text-anchor="start" fill="#111" >Q1</text>
<text x="150.2" y="467.15000000000003" font-size="8.6" font-weight="bold" text-anchor="start" fill="#111" >Q6</text>
<text x="276.6" y="393.59999999999997" font-size="8.5" font-weight="bold" fill="#111"><tspan font-style="italic">Pisum</tspan> (sub)species</text>
<circle cx="231.4" cy="406.1" r="1.65" fill="#c6c6ce"/>
<text class="sp" x="237.2" y="408.09999999999997" textLength="33.6" lengthAdjust="spacingAndGlyphs"><tspan font-style="italic">P. sativum</tspan></text>
<circle cx="231.4" cy="418.3" r="1.65" fill="#1c2c9c"/>
<text class="sp" x="237.2" y="420.29999999999995" textLength="84.8" lengthAdjust="spacingAndGlyphs"><tspan font-style="italic">P. sativum</tspan> <tspan class="up">subsp.</tspan> <tspan font-style="italic">sativum</tspan></text>
<circle cx="231.4" cy="430.7" r="1.65" fill="#0c5f24"/>
<text class="sp" x="237.2" y="432.7" textLength="79.8" lengthAdjust="spacingAndGlyphs"><tspan font-style="italic">P. sativum</tspan> <tspan class="up">subsp.</tspan> <tspan font-style="italic">elatius</tspan></text>
<circle cx="231.4" cy="444.6" r="1.65" fill="#8f22a8"/>
<text class="sp" x="238.4" y="446.59999999999997" textLength="85.6" lengthAdjust="spacingAndGlyphs"><tspan font-style="italic">P. sativum</tspan> <tspan class="up">subsp.</tspan> <tspan font-style="italic">jomardii</tspan></text>
<circle cx="231.4" cy="456.8" r="1.65" fill="#c2187e"/>
<text class="sp" x="238.4" y="458.79999999999995" textLength="91.6" lengthAdjust="spacingAndGlyphs"><tspan font-style="italic">P. sativum</tspan> <tspan class="up">subsp.</tspan> <tspan font-style="italic">thebaicum</tspan></text>
<circle cx="231.4" cy="468.9" r="1.65" fill="#e6e23a"/>
<text class="sp" x="238.4" y="470.9" textLength="88.0" lengthAdjust="spacingAndGlyphs"><tspan font-style="italic">P. sativum</tspan> <tspan class="up">subsp.</tspan> <tspan font-style="italic">cinereum</tspan></text>
<circle cx="231.4" cy="481.5" r="1.65" fill="#e8212b"/>
<text class="sp" x="238.4" y="483.5" textLength="46.9" lengthAdjust="spacingAndGlyphs"><tspan font-style="italic">P. abyssinicum</tspan></text>
<circle cx="231.4" cy="493.6" r="1.65" fill="#e8941a"/>
<text class="sp" x="238.4" y="495.59999999999997" textLength="30.6" lengthAdjust="spacingAndGlyphs"><tspan font-style="italic">P. fulvum</tspan></text>
<circle cx="336.7" cy="408.3" r="1.65" fill="#6272c6"/>
 <text class="sp" x="343.2" y="406.2" textLength="58.5" lengthAdjust="spacingAndGlyphs"><tspan font-style="italic">P. sativum</tspan> <tspan class="up">subsp.</tspan></text>
<text class="sp" x="343.2" y="415.59999999999997" textLength="67.2" lengthAdjust="spacingAndGlyphs"><tspan font-style="italic">sativum</tspan> <tspan class="up">var.</tspan> <tspan font-style="italic">sativum</tspan></text>
<circle cx="336.7" cy="428.3" r="1.65" fill="#6cc5e8"/>
 <text class="sp" x="342.5" y="425.9" textLength="58.5" lengthAdjust="spacingAndGlyphs"><tspan font-style="italic">P. sativum</tspan> <tspan class="up">subsp.</tspan></text>
<text class="sp" x="342.5" y="435.59999999999997" textLength="66.0" lengthAdjust="spacingAndGlyphs"><tspan font-style="italic">sativum</tspan> <tspan class="up">var.</tspan> <tspan font-style="italic">arvense</tspan></text>
<circle cx="336.7" cy="450.5" r="1.65" fill="#8bbd1a"/>
 <text class="sp" x="342.5" y="447.2" textLength="58.5" lengthAdjust="spacingAndGlyphs"><tspan font-style="italic">P. sativum</tspan> <tspan class="up">subsp.</tspan></text>
<text class="sp" x="342.5" y="456.59999999999997" textLength="62.0" lengthAdjust="spacingAndGlyphs"><tspan font-style="italic">elatius</tspan> <tspan class="up">var.</tspan> <tspan font-style="italic">pumilio</tspan></text>
<circle cx="336.7" cy="473.9" r="1.65" fill="#1fa32e"/>
 <text class="sp" x="342.5" y="471.09999999999997" textLength="58.5" lengthAdjust="spacingAndGlyphs"><tspan font-style="italic">P. sativum</tspan> <tspan class="up">subsp.</tspan></text>
<text class="sp" x="342.5" y="480.79999999999995" textLength="58.5" lengthAdjust="spacingAndGlyphs"><tspan font-style="italic">elatius</tspan> <tspan class="up">var.</tspan> <tspan font-style="italic">elatius</tspan></text>
<circle cx="336.7" cy="495.7" r="1.65" fill="#f0609e"/>
 <text class="sp" x="345.0" y="492.4" textLength="58.5" lengthAdjust="spacingAndGlyphs"><tspan font-style="italic">P. sativum</tspan> <tspan class="up">subsp.</tspan></text>
<text class="sp" x="345.0" y="502.29999999999995" textLength="50.5" lengthAdjust="spacingAndGlyphs"><tspan font-style="italic">transcaucasicum</tspan></text>
<text x="270.2" y="517.1" font-size="8.55" font-weight="bold" text-anchor="start" fill="#111" >STRUCTURE (K= 6)</text>
<circle cx="263.1" cy="528.3" r="1.9" fill="#111"/>
<text x="269.2" y="530.4" font-size="7.8" font-weight="normal" text-anchor="start" fill="#1a1a1a" >Q1</text>
<path d="M263.1 537.1L265.5 541.4H260.7Z" fill="#111"/>
<text x="269.2" y="541.6" font-size="7.8" font-weight="normal" text-anchor="start" fill="#1a1a1a" >Q2</text>
<path d="M304.3 528.3H309.9M307.1 525.5V531.1" stroke="#111" stroke-width="0.65" fill="none"/>
<text x="313.9" y="530.4" font-size="7.8" font-weight="normal" text-anchor="start" fill="#1a1a1a" >Q4</text>
<rect x="305.4" y="537.8" width="3.4" height="3.4" fill="#111"/>
<text x="313.9" y="541.6" font-size="7.8" font-weight="normal" text-anchor="start" fill="#1a1a1a" >Q3</text>
<path d="M341 526.4h3.8v3.8h-3.8zM341 526.4l3.8 3.8M344.8 526.4l-3.8 3.8" stroke="#111" stroke-width="0.85" fill="none"/>
<text x="349.7" y="530.4" font-size="7.8" font-weight="normal" text-anchor="start" fill="#1a1a1a" >Q5</text>
<path d="M340.1 539.5h5.6M342.9 536.7v5.6M340.9 537.5l4 4M344.9 537.5l-4 4" stroke="#111" stroke-width="0.7" fill="none"/>
<text x="349.7" y="541.6" font-size="7.8" font-weight="normal" text-anchor="start" fill="#1a1a1a" >Q6</text>
</svg>
</body></html>
